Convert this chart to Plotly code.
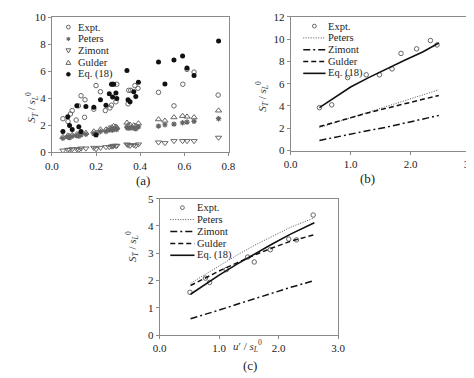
import plotly.graph_objects as go

W, H = 474, 378
FONT = "Liberation Serif, Times New Roman, serif"

# ---------------- Panel (a) data ----------------
a_expt_x = [0.05, 0.073, 0.084, 0.092, 0.11, 0.12, 0.132, 0.148, 0.15, 0.19, 0.20, 0.22, 0.242, 0.263,
            0.27, 0.275, 0.29, 0.294, 0.345, 0.348, 0.357, 0.376, 0.39, 0.483, 0.553, 0.593, 0.612, 0.644, 0.753]
a_expt_y = [2.5, 2.3, 2.85, 3.1, 2.4, 3.45, 4.2, 2.6, 3.9, 3.2, 4.95, 4.5, 3.1, 3.3,
            3.5, 5.05, 3.75, 5.05, 3.6, 4.6, 4.6, 4.95, 4.75, 4.45, 3.45, 5.05, 6.15, 5.95, 4.25]
a_model_x = [0.05, 0.072, 0.08, 0.092, 0.113, 0.122, 0.132, 0.154, 0.19, 0.20, 0.22, 0.245, 0.26, 0.27, 0.28,
             0.275, 0.29, 0.294, 0.34, 0.345, 0.354, 0.371, 0.38, 0.392, 0.483, 0.512, 0.553, 0.592, 0.612, 0.644, 0.755]
a_eq18 = [1.55, 2.65, 2.0, 1.7, 3.45, 1.9, 1.55, 3.4, 3.35, 1.3, 3.9, 3.5, 4.35, 5.05, 5.05,
          4.1, 4.4, 4.0, 6.07, 3.9, 3.75, 4.5, 4.15, 5.2, 6.7, 5.07, 6.85, 7.15, 6.25, 5.7, 8.25]
a_gulder = [1.15, 1.25, 1.2, 1.3, 1.35, 1.3, 1.45, 1.45, 1.55, 1.45, 1.7, 1.7, 1.8, 1.85, 1.95,
            1.8, 1.9, 1.85, 2.2, 2.0, 2.05, 2.0, 1.95, 2.15, 2.45, 2.35, 2.6, 2.7, 2.65, 2.6, 3.1]
a_peters = [1.05, 1.15, 1.1, 1.2, 1.25, 1.2, 1.3, 1.35, 1.4, 1.35, 1.55, 1.55, 1.65, 1.7, 1.75,
            1.65, 1.75, 1.7, 1.85, 1.8, 1.8, 1.8, 1.75, 1.9, 1.95, 2.05, 2.1, 2.2, 2.25, 2.3, 2.5]
a_zimont = [0.15, 0.2, 0.2, 0.25, 0.25, 0.2, 0.3, 0.3, 0.35, 0.25, 0.35, 0.4, 0.4, 0.45, 0.5,
            0.45, 0.5, 0.5, 0.6, 0.55, 0.5, 0.55, 0.5, 0.6, 0.75, 0.7, 0.85, 0.85, 0.85, 0.85, 1.1]

# ---------------- Panel (b) data ----------------
b_expt_x = [0.48, 0.685, 0.95, 1.26, 1.48, 1.69, 1.84, 2.1, 2.33, 2.44]
b_expt_y = [3.85, 4.1, 6.55, 6.8, 6.8, 7.33, 8.72, 9.13, 9.88, 9.48]
b_line_x = [0.48, 0.7, 1.0, 1.3, 1.6, 1.9, 2.2, 2.47]
b_eq18 = [3.85, 4.65, 5.7, 6.55, 7.35, 8.1, 8.85, 9.65]
b_peters = [2.05, 2.45, 2.95, 3.45, 3.95, 4.45, 4.95, 5.45]
b_gulder = [2.15, 2.5, 2.95, 3.4, 3.8, 4.2, 4.6, 4.95]
b_zimont = [0.9, 1.15, 1.5, 1.8, 2.1, 2.45, 2.8, 3.15]

# ---------------- Panel (c) data ----------------
c_expt_x = [0.51, 0.77, 0.84, 1.12, 1.48, 1.59, 1.86, 2.17, 2.3, 2.58]
c_expt_y = [1.57, 2.09, 1.93, 2.4, 2.86, 2.68, 3.13, 3.52, 3.49, 4.4]
c_line_x = [0.52, 0.8, 1.0, 1.3, 1.6, 1.9, 2.2, 2.6]
c_peters = [1.9, 2.28, 2.55, 2.93, 3.3, 3.64, 3.95, 4.3]
c_eq18 = [1.5, 1.92, 2.2, 2.6, 2.98, 3.35, 3.7, 4.12]
c_gulder = [1.82, 2.14, 2.35, 2.65, 2.94, 3.2, 3.44, 3.68]
c_zimont = [0.6, 0.78, 0.92, 1.13, 1.34, 1.55, 1.75, 2.0]

legend_names = ["Expt.", "Peters", "Zimont", "Gulder", "Eq. (18)"]

# ---------------- styles ----------------
GRAY = "#666666"
sym_a = {
    "Expt.": dict(symbol="circle-open", color=GRAY, size=4.5, line=dict(width=1, color=GRAY)),
    "Peters": dict(symbol="asterisk-open", color=GRAY, size=4.5, line=dict(width=1.2, color=GRAY)),
    "Zimont": dict(symbol="triangle-down-open", color=GRAY, size=5.5, line=dict(width=1, color=GRAY)),
    "Gulder": dict(symbol="triangle-up-open", color=GRAY, size=5.5, line=dict(width=1, color=GRAY)),
    "Eq. (18)": dict(symbol="circle", color="#111111", size=5, line=dict(width=0)),
}
line_styles = {
    "Peters": dict(color="#555555", width=1, dash="1px,1.5px"),
    "Zimont": dict(color="#111111", width=1.5, dash="7px,3px,2px,3px"),
    "Gulder": dict(color="#111111", width=1.5, dash="5px,3px"),
    "Eq. (18)": dict(color="#111111", width=1.6, dash="solid"),
}

fig = go.Figure()

# panel (a)
a_series = {"Expt.": (a_expt_x, a_expt_y), "Peters": (a_model_x, a_peters), "Zimont": (a_model_x, a_zimont),
            "Gulder": (a_model_x, a_gulder), "Eq. (18)": (a_model_x, a_eq18)}
for name in ["Zimont", "Peters", "Gulder", "Expt.", "Eq. (18)"]:
    xs, ys = a_series[name]
    fig.add_trace(go.Scatter(x=xs, y=ys, mode="markers", name=name, marker=sym_a[name],
                             xaxis="x", yaxis="y", showlegend=False))

# panel (b)
fig.add_trace(go.Scatter(x=b_expt_x, y=b_expt_y, mode="markers", marker=sym_a["Expt."], xaxis="x2", yaxis="y2", showlegend=False))
for name, ys in [("Peters", b_peters), ("Zimont", b_zimont), ("Gulder", b_gulder), ("Eq. (18)", b_eq18)]:
    fig.add_trace(go.Scatter(x=b_line_x, y=ys, mode="lines", line=line_styles[name], xaxis="x2", yaxis="y2", showlegend=False))

# panel (c)
fig.add_trace(go.Scatter(x=c_expt_x, y=c_expt_y, mode="markers", marker=sym_a["Expt."], xaxis="x3", yaxis="y3", showlegend=False))
for name, ys in [("Peters", c_peters), ("Zimont", c_zimont), ("Gulder", c_gulder), ("Eq. (18)", c_eq18)]:
    fig.add_trace(go.Scatter(x=c_line_x, y=ys, mode="lines", line=line_styles[name], xaxis="x3", yaxis="y3", showlegend=False))


def px(x):
    return x / W


def py(y):
    return 1 - y / H


axis_common = dict(showline=True, linecolor="#8a8a8a", linewidth=1, mirror=True, ticks="outside",
                   ticklen=3, tickcolor="#8a8a8a", showgrid=False, zeroline=False,
                   tickfont=dict(family=FONT, size=11, color="#222"))

fig.update_layout(
    width=W, height=H, margin=dict(l=0, r=0, t=0, b=0),
    font=dict(family=FONT, size=11, color="#222"),
    paper_bgcolor="white", plot_bgcolor="white", showlegend=False,
    xaxis=dict(domain=[px(38), px(220)], range=[0, 0.8], dtick=0.2, tickformat=".1f", anchor="y", **axis_common),
    yaxis=dict(domain=[py(143), py(3.5)], range=[0, 10], dtick=2, anchor="x", **axis_common),
    xaxis2=dict(domain=[px(284), px(469.5)], range=[0, 3], dtick=1, tickformat=".1f", anchor="y2", **axis_common),
    yaxis2=dict(domain=[py(141), py(3)], range=[0, 12], dtick=2, anchor="x2", **axis_common),
    xaxis3=dict(domain=[px(149), px(333)], range=[0, 3], dtick=1, tickformat=".1f", anchor="y3", **axis_common),
    yaxis3=dict(domain=[py(331.7), py(190.7)], range=[0, 5], dtick=1, anchor="x3", **axis_common),
)

ann = []
shapes = []
ytitle = "<i>S</i><sub><i>T</i></sub> / <i>s</i><sub><i>L</i></sub><sup>0</sup>"
for (xx, yy) in [(7, 78), (255, 67), (111, 258)]:
    ann.append(dict(x=px(xx), y=py(yy), xref="paper", yref="paper", text=ytitle, textangle=-90,
                    showarrow=False, font=dict(family=FONT, size=11, color="#333")))
ann.append(dict(x=px(240), y=py(353), xref="paper", yref="paper",
                text="<i>u</i>′ / <i>s</i><sub><i>L</i></sub><sup>0</sup>", showarrow=False,
                font=dict(family=FONT, size=11, color="#333")))
for txt, xx, yy in [("(a)", 123, 172), ("(b)", 373, 170), ("(c)", 242, 373)]:
    ann.append(dict(x=px(xx), y=py(yy), xref="paper", yref="paper", text=txt, showarrow=False,
                    font=dict(family=FONT, size=13, color="#222")))


# legend helper pieces (symbols drawn as pixel-sized shapes anchored in paper space)
def marker_shape(kind, cx, cy):
    base = dict(xref="paper", yref="paper", xsizemode="pixel", ysizemode="pixel",
                xanchor=px(cx), yanchor=py(cy))
    if kind == "Expt.":
        return [dict(type="circle", x0=-1.9, x1=1.9, y0=-1.9, y1=1.9, line=dict(color=GRAY, width=1), **base)]
    if kind == "Eq. (18)":
        return [dict(type="circle", x0=-2, x1=2, y0=-2, y1=2, fillcolor="#111", line=dict(color="#111", width=0.5), **base)]
    if kind == "Gulder":
        return [dict(type="path", path="M -2.4 -1.9 L 2.4 -1.9 L 0 2.3 Z", line=dict(color=GRAY, width=1), **base)]
    if kind == "Zimont":
        return [dict(type="path", path="M -2.4 1.9 L 2.4 1.9 L 0 -2.3 Z", line=dict(color=GRAY, width=1), **base)]
    if kind == "Peters":
        return [dict(type="path", path="M 0 -2 L 0 2 M -1.8 -1.1 L 1.8 1.1 M -1.8 1.1 L 1.8 -1.1",
                     line=dict(color=GRAY, width=1.1), **base)]
    return []


def text_ann(txt, x, y):
    return dict(x=px(x), y=py(y), xref="paper", yref="paper", text=txt, showarrow=False, xanchor="left",
                yanchor="middle", font=dict(family=FONT, size=10.5, color="#222"))


# legend (a)
for i, name in enumerate(legend_names):
    yy = 13.5 + i * 12.2
    shapes += marker_shape(name, 55, yy)
    ann.append(text_ann(name, 63, yy))

# legends (b) and (c)
for (sx0, sx1, tx, y0, dy) in [(297, 320, 320, 12.5, 12.2), (160, 185, 185, 200, 12.3)]:
    for i, name in enumerate(legend_names):
        yy = y0 + i * dy
        if name == "Expt.":
            shapes += marker_shape(name, (sx0 + sx1) / 2, yy)
        else:
            st = line_styles[name]
            shapes.append(dict(type="line", xref="paper", yref="paper", x0=px(sx0), x1=px(sx1),
                               y0=py(yy), y1=py(yy), line=dict(color=st["color"], width=st["width"], dash=st["dash"])))
        ann.append(text_ann(name, tx, yy))

fig.update_layout(annotations=ann, shapes=shapes)
fig.write_html("out.html")
